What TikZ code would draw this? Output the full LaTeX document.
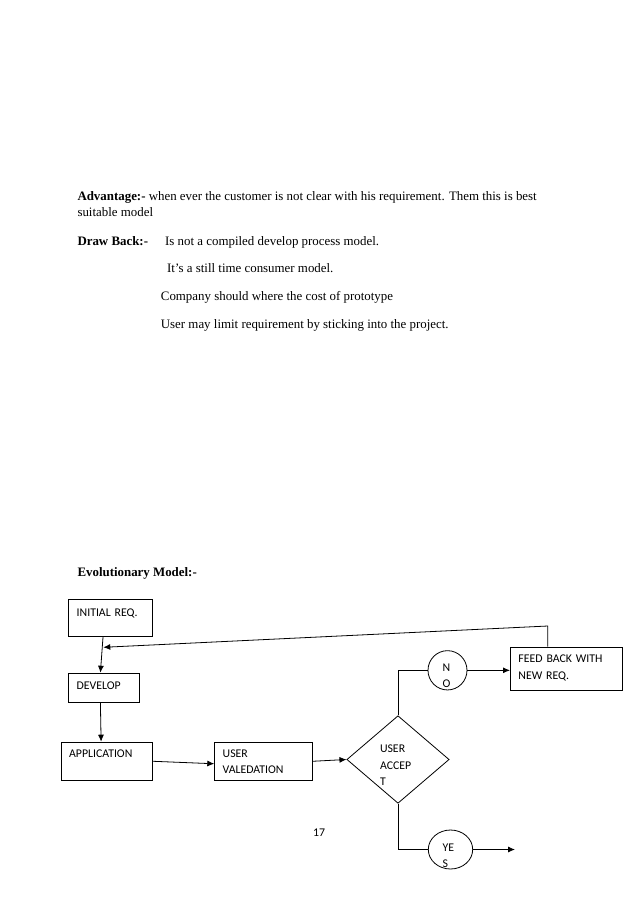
\documentclass[tikz,border=0pt]{standalone}
\usepackage{fontspec}
\setmainfont{Liberation Serif}
\newfontfamily\calibri{Carlito}
\usepackage{tikz}
\usetikzlibrary{shapes.geometric, arrows.meta}
\tikzstyle{body} = [anchor=base west, inner sep=0pt, font=\fontsize{12.9}{15}\selectfont]
\tikzstyle{process} = [rectangle, draw=black, line width=0.8pt, anchor=north west, align=left, inner xsep=8pt, inner ysep=0pt, text height=16pt, font=\calibri\fontsize{11.8}{16.6}\selectfont]
\tikzstyle{decision} = [diamond, draw=black, line width=0.8pt, align=left, text width=36pt, text height=10pt, text depth=23.6pt, minimum width=102.3pt, minimum height=87.6pt, aspect=1.17, inner sep=0pt, font=\calibri\fontsize{11.8}{16.6}\selectfont]
\tikzstyle{answer} = [ellipse, draw=black, line width=0.8pt, align=left, inner sep=0pt, text depth=3.2pt, font=\calibri\fontsize{11.8}{15.6}\selectfont]
\tikzstyle{arrow} = [line width=0.8pt, ->, >={Latex[length=7pt,width=6pt]}]

\begin{document}
\begin{tikzpicture}[x=1pt, y=-1pt]
		\useasboundingbox (0,0) rectangle (638,903);
		
		\node (adv) [body] at (77.3,200) {\textbf{Advantage:-} when ever the customer is not clear with his requirement. Them this is best};
		\node (adv2) [body] at (77.3,216.7) {suitable model};
		\node (drawback) [body] at (77.3,245) {\textbf{Draw Back:-}};
		\node (db1) [body] at (165,245) {Is not a compiled develop process model.};
		\node (db2) [body] at (167,272.7) {It's a still time consumer model.};
		\node (db3) [body] at (160.7,300.7) {Company should where the cost of prototype};
		\node (db4) [body] at (160.7,328.3) {User may limit requirement by sticking into the project.};
		\node (evo) [body] at (77.3,576.7) {\textbf{Evolutionary Model:-}};
		
		\node (initreq) [process, text width=67.3pt, text height=17pt, text depth=19.4pt] at (68.3,599.3) {INITIAL REQ.};
		\node (develop) [process, text width=55pt, text height=16.6pt, text depth=12.4pt] at (68.3,672.7) {DEVELOP};
		\node (application) [process, text width=75pt, text height=15pt, text depth=23.3pt] at (60.7,741.7) {APPLICATION};
		\node (validation) [process, text width=82pt, text height=15pt, text depth=23.3pt] at (214.3,741.7) {USER\\VALEDATION};
		\node (accept) [decision] at (398,759.5) {USER\\ACCEP\\T};
		\node (no) [answer, text width=10pt, text height=6pt, minimum width=39pt, minimum height=39.3pt] at (447.5,670.3) {N\\O};
		\node (feedback) [process, text width=96.3pt, text height=15.6pt, text depth=27.7pt] at (510,646.7) {FEED BACK WITH\\NEW REQ.};
		\node (yes) [answer, text width=16pt, text height=7pt, minimum width=44.4pt, minimum height=39pt] at (450.5,849.5) {YE\\S};
		\node (page) [anchor=base, inner sep=0pt, font=\calibri\fontsize{11.8}{14}\selectfont] at (319,836) {17};
		\coordinate (back) at (103.3,647.3);
		\coordinate (exit) at (515,849.5);
		
		\draw [arrow] ([xshift=-7.3pt]initreq.south) -- ([xshift=-3.8pt]develop.north);
		\draw [arrow] ([xshift=-18.85pt]feedback.north) -- ++(0,-20.7) -- (back);
		\draw [arrow] ([xshift=-3.8pt]develop.south) -- ([xshift=-5.5pt]application.north);
		\draw [arrow] (application.east) -- ([yshift=-2.5pt]validation.west);
		\draw [arrow] (validation.east) -- (accept.west);
		\draw [line width=0.8pt] (accept.north) |- (no.west);
		\draw [arrow] (no.east) -- (no.east -| feedback.west);
		\draw [line width=0.8pt] (accept.south) |- (yes.west);
		\draw [arrow] (yes.east) -- (exit);
	\end{tikzpicture}
\end{document}
